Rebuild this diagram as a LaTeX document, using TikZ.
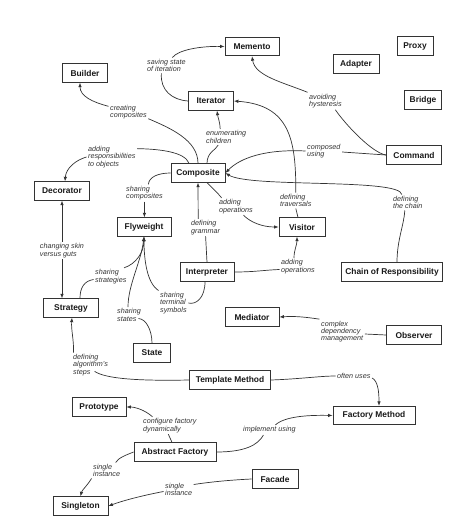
\documentclass[tikz,border=0pt]{standalone}
\usepackage{fontspec}
\setmainfont{Liberation Sans}
\usetikzlibrary{arrows.meta}
\tikzset{
  pat/.style={draw=black!80, line width=0.8pt, fill=white, font=\fontsize{8.4}{9}\selectfont\bfseries, text=black!90, inner xsep=4pt, minimum height=18.5pt},
  lab/.style={font=\fontsize{7.2}{7.3}\selectfont\itshape, text=black!80, align=left, inner sep=1.5pt, anchor=west},
  conn/.style={draw=black!80, line width=0.7pt},
  arr/.style={conn, -{Latex[length=4.5pt,width=3.5pt]}},
}
\begin{document}
\begin{tikzpicture}[x=1pt,y=-1pt]
\useasboundingbox (0,0) rectangle (474,522);
% pattern boxes
\node[pat, minimum width=54pt] (memento) at (252,46.5) {Memento};
\node[pat, minimum width=46pt] (adapter) at (356,64) {Adapter};
\node[pat, minimum width=36pt] (proxy) at (415,46) {Proxy};
\node[pat, minimum width=37pt] (bridge) at (423,100) {Bridge};
\node[pat, minimum width=55pt] (command) at (414,155) {Command};
\node[pat, minimum width=45pt] (builder) at (85,73) {Builder};
\node[pat, minimum width=45pt] (iterator) at (211,101) {Iterator};
\node[pat, minimum width=54pt] (composite) at (198,173) {Composite};
\node[pat, minimum width=55pt] (decorator) at (62,191) {Decorator};
\node[pat, minimum width=54pt] (flyweight) at (144,227) {Flyweight};
\node[pat, minimum width=54pt] (interpreter) at (207,272) {Interpreter};
\node[pat, minimum width=55pt] (strategy) at (71,308) {Strategy};
\node[pat, minimum width=37pt] (state) at (152,353) {State};
\node[pat, minimum width=46pt] (visitor) at (302,227) {Visitor};
\node[pat, minimum width=99pt] (chain) at (392,272) {Chain of Responsibility};
\node[pat, minimum width=54pt] (mediator) at (252,317) {Mediator};
\node[pat, minimum width=55pt] (observer) at (414,335) {Observer};
\node[pat, minimum width=81pt] (template) at (230,380) {Template Method};
\node[pat, minimum width=82pt] (factory) at (374,415.5) {Factory Method};
\node[pat, minimum width=54pt] (prototype) at (99,407) {Prototype};
\node[pat, minimum width=82pt] (abstract) at (175,452) {Abstract Factory};
\node[pat, minimum width=46pt] (facade) at (275,479) {Facade};
\node[pat, minimum width=55pt] (singleton) at (80.5,506) {Singleton};
% labels
\node[lab] (l_save) at (145.5,65.5) {saving state\\of iteration};
\node[lab] (l_create) at (108.5,112) {creating\\composites};
\node[lab] (l_enum) at (204.5,137) {enumerating\\children};
\node[lab] (l_resp) at (86.5,157) {adding\\responsibilities\\to objects};
\node[lab, anchor=center] (l_skin) at (62,250.5) {changing skin\\versus guts};
\node[lab] (l_shcomp) at (124.5,193) {sharing\\composites};
\node[lab] (l_shstrat) at (93.5,276.5) {sharing\\strategies};
\node[lab] (l_shstate) at (115.5,315) {sharing\\states};
\node[lab] (l_shterm) at (158.5,303) {sharing\\terminal\\symbols};
\node[lab] (l_gram) at (189.5,227.5) {defining\\grammar};
\node[lab] (l_addop1) at (279.5,266.5) {adding\\operations};
\node[lab] (l_addop2) at (217.5,206.5) {adding\\operations};
\node[lab] (l_trav) at (278.5,200.5) {defining\\traversals};
\node[lab] (l_compused) at (305.5,151) {composed\\using};
\node[lab] (l_hyst) at (307.5,101) {avoiding\\hysteresis};
\node[lab] (l_chain) at (391.5,202.5) {defining\\the chain};
\node[lab] (l_complex) at (319.5,331.5) {complex\\dependency\\management};
\node[lab] (l_algo) at (71.5,365) {defining\\algorithm's\\steps};
\node[lab] (l_often) at (335.5,376) {often uses};
\node[lab] (l_config) at (141.5,425.5) {configure factory\\dynamically};
\node[lab] (l_impl) at (241.5,430) {implement using};
\node[lab] (l_single1) at (91.5,470.5) {single\\instance};
\node[lab] (l_single2) at (163.5,489.5) {single\\instance};
% connectors
\draw[conn] (iterator.west) .. controls (172,100) and (160,90) .. ([xshift=-5pt]l_save.south);
\draw[arr] ([xshift=6pt]l_save.north) .. controls (178,50) and (200,46) .. (memento.west);
\draw[conn] (composite.north) .. controls (198,140) and (170,128) .. ([yshift=2pt]l_create.south east);
\draw[arr] ([yshift=-3pt]l_create.north west) .. controls (92,102) and (80,96) .. ([xshift=-5pt]builder.south);
\draw[conn] ([xshift=9pt]composite.north) .. controls (207,152) and (216,150) .. ([xshift=-8pt]l_enum.south);
\draw[arr] ([xshift=-6pt]l_enum.north) .. controls (220,122) and (218,118) .. ([xshift=6pt]iterator.south);
\draw[conn] ([xshift=-9pt]composite.north) .. controls (185,152) and (160,149) .. ([yshift=-4pt]l_resp.north east);
\draw[arr] (l_resp.west) .. controls (76,160) and (66,168) .. ([xshift=3pt]decorator.north);
\draw[arr] (l_skin.north) -- (decorator.south);
\draw[arr] (l_skin.south) -- (l_skin.south |- strategy.north);
\draw[conn] (composite.west) .. controls (158,173) and (149,177) .. ([xshift=4pt]l_shcomp.north);
\draw[arr] (l_shcomp.south) -- (l_shcomp.south |- flyweight.north);
\draw[conn] ([xshift=9pt]strategy.north) .. controls (80,288) and (84,281) .. ([yshift=-3pt]l_shstrat.west);
\draw[arr] ([xshift=-4pt]l_shstrat.north east) .. controls (136,264) and (144,252) .. (flyweight.south);
\draw[conn] (state.north) .. controls (152,330) and (146,319) .. ([xshift=-4pt,yshift=-3.5pt]l_shstate.east);
\draw[arr] ([xshift=-1pt]l_shstate.north) .. controls (128,285) and (141,262) .. (flyweight.south);
\draw[conn] ([xshift=-2pt]interpreter.south) .. controls (205,298) and (196,305) .. (l_shterm.east);
\draw[arr] (l_shterm.north west) .. controls (147,283) and (144,260) .. (flyweight.south);
\draw[conn] (interpreter.north) -- (l_gram.south);
\draw[arr] ([xshift=-7.4pt]l_gram.north) -- (composite.south);
\draw[conn] (interpreter.east) .. controls (255,272) and (265,270) .. ([yshift=-3pt]l_addop1.west);
\draw[arr] ([xshift=-4pt]l_addop1.north) .. controls (294,250) and (297,245) .. ([xshift=-5pt]visitor.south);
\draw[conn] ([xshift=9pt]composite.south) .. controls (212,188) and (218,193) .. ([xshift=4pt]l_addop2.north west);
\draw[arr] ([xshift=-11pt]l_addop2.south east) .. controls (250,222) and (262,227) .. (visitor.west);
\draw[conn] ([xshift=-4pt]visitor.north) -- (l_trav.south);
\draw[arr] (l_trav.north) .. controls (296,140) and (290,105) .. (iterator.east);
\draw[conn] (command.west) -- ([yshift=-1pt]l_compused.east);
\draw[arr] (l_compused.west) .. controls (265,149) and (240,158) .. (composite.east);
\draw[conn] (command.west) .. controls (372,153) and (345,124) .. ([xshift=-8pt]l_hyst.south east);
\draw[arr] (l_hyst.north west) .. controls (282,82) and (255,76) .. (memento.south);
\draw[conn] ([xshift=5pt]chain.north) .. controls (397,240) and (404,225) .. ([xshift=-3pt]l_chain.south);
\draw[arr] ([xshift=-6pt]l_chain.north) .. controls (400,178) and (250,188) .. (composite.east);
\draw[conn] (observer.west) -- ([yshift=-2.5pt]l_complex.east);
\draw[arr] (l_complex.north west) .. controls (305,317) and (295,316) .. (mediator.east);
\draw[conn] (template.west) .. controls (140,381) and (106,379) .. ([xshift=-15pt,yshift=6pt]l_algo.south east);
\draw[arr] ([xshift=2pt]l_algo.north west) .. controls (74,340) and (71,330) .. ([xshift=1pt]strategy.south);
\draw[conn] (template.east) .. controls (300,379) and (320,376) .. (l_often.west);
\draw[arr] ([yshift=-2pt]l_often.east) .. controls (378,381) and (379,392) .. ([xshift=5pt]factory.north);
\draw[conn] ([xshift=-3pt]abstract.north) -- ([xshift=-1.5pt]l_config.south);
\draw[arr] ([xshift=11pt]l_config.north west) .. controls (145,410) and (135,407) .. (prototype.east);
\draw[conn] (abstract.east) .. controls (245,452) and (258,445) .. ([xshift=-6pt]l_impl.south);
\draw[arr] ([xshift=6pt]l_impl.north) .. controls (285,416) and (310,415) .. (factory.west);
\draw[conn] (abstract.west) .. controls (126,455) and (118,458) .. ([xshift=-6pt]l_single1.north east);
\draw[arr] (l_single1.south west) .. controls (87,486) and (82,490) .. (singleton.north);
\draw[conn] (facade.west) .. controls (230,480) and (210,482) .. ([yshift=5pt]l_single2.east);
\draw[arr] ([yshift=-2pt]l_single2.west) .. controls (140,496) and (122,501) .. (singleton.east);
\end{tikzpicture}
\end{document}
